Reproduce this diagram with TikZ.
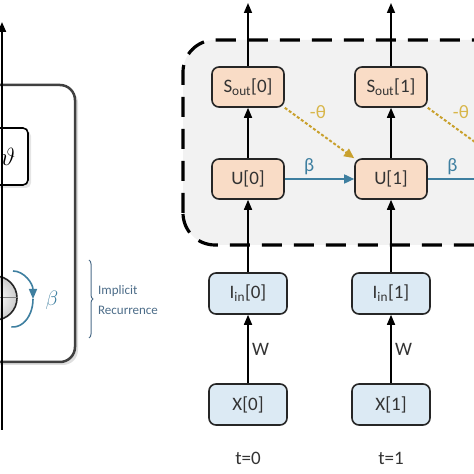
\documentclass[tikz,border=0pt]{standalone}
\usepackage{fontspec}
\setmainfont{Carlito}
\usetikzlibrary{positioning,arrows.meta,shadows,decorations.pathreplacing}

\definecolor{peach}{HTML}{F9DCC6}
\definecolor{icebl}{HTML}{DCEAF4}
\definecolor{betabl}{HTML}{3E7FA0}
\definecolor{thgold}{HTML}{C9A12E}
\definecolor{thtext}{HTML}{D8B64A}
\definecolor{bracebl}{HTML}{4C6C88}
\definecolor{panel}{HTML}{F2F2F2}

\tikzset{
  unit/.style={draw=black!85,line width=1.6pt,rounded corners=7pt,minimum width=72pt,
    minimum height=40pt,font=\fontsize{19}{21}\selectfont,text=black!80},
  memb/.style={unit,fill=peach},
  feed/.style={unit,fill=icebl,minimum width=78pt,minimum height=41pt},
  lbl/.style={font=\fontsize{19}{21}\selectfont,text=black!80},
  betaline/.style={draw=betabl,-{Triangle[length=10pt,width=9pt]}},
  thetaline/.style={draw=thgold,line width=2pt,dash pattern=on 3pt off 2pt,
    -{Triangle[length=10pt,width=9pt]}},
}

\begin{document}
\begin{tikzpicture}[x=1pt,y=1pt,>={Triangle[length=10pt,width=8pt]},line width=1.6pt,
    node distance=92pt,on grid,auto]
	\useasboundingbox (0,0) rectangle (474,474);
	\clip (0,0) rectangle (474,474);
	% folded neuron
	\draw[draw=black!75,line width=2.5pt,fill=white,rounded corners=15pt,
	  drop shadow={opacity=0.25,shadow xshift=3pt,shadow yshift=-3pt}] (-200,112) rectangle (75,389);
	\draw[fill=white,line width=1.6pt,rounded corners=5pt,
	  drop shadow={opacity=0.2,shadow xshift=3pt,shadow yshift=-3pt}] (-60,289) rectangle (28,346);
	\node (vth) at (8,317) {\fontsize{24}{24}\selectfont$\vartheta$};
	\node[circle,draw=black!85,line width=1.6pt,minimum size=44pt,inner color=white,
	  outer color=gray!40] (soma) at (-5,176) {};
	\draw[gray,line width=1pt] (soma.west) -- (soma.east);
	\draw[betabl,->] (13,203) arc[start angle=90,end angle=0,x radius=20pt,y radius=28pt];
	\draw[betabl] (33,175) arc[start angle=0,end angle=-95,x radius=20pt,y radius=28pt];
	\node[text=betabl] (bl) at (52,174) {\fontsize{21}{21}\selectfont$\beta$};
	\draw[->,line width=2pt] (2,44) -- (2,452);
	\draw[bracebl,line width=1pt,decorate,decoration={brace,amplitude=4pt}] (89,214) -- (89,136);
	\node[anchor=west,align=left,text=bracebl,font=\fontsize{13}{20}\selectfont] (impl) at (94,174)
	  {Implicit\\Recurrence};
	% unrolled neuron
	\draw[fill=panel,line width=3.2pt,dash pattern=on 20pt off 12pt,rounded corners=32pt]
	  (183,229) rectangle (640,434);
	\node[memb] (u0) at (248,295) {U[0]};
	\node[memb] (s0) [above=of u0] {S\textsubscript{out}[0]};
	\node[feed] (i0) [below=114.5pt of u0] {I\textsubscript{in}[0]};
	\node[feed] (x0) [below=111pt of i0] {X[0]};
	\node[lbl] (t0) [below=53.5pt of x0] {t=0};
	\coordinate[above=84pt of s0] (o0);
	\node[memb] (u1) [right=143pt of u0] {U[1]};
	\node[memb] (s1) [above=of u1] {S\textsubscript{out}[1]};
	\node[feed] (i1) [below=114.5pt of u1] {I\textsubscript{in}[1]};
	\node[feed] (x1) [below=111pt of i1] {X[1]};
	\node[lbl] (t1) [below=53.5pt of x1] {t=1};
	\coordinate[above=84pt of s1] (o1);
	\coordinate[right=107pt of u1] (u2);
	\coordinate[right=143pt of u1.north west] (u2nw);
	\path[->]
	  (x0) edge node[lbl,swap] {W} (i0)
	  (i0) edge (u0)
	  (u0) edge (s0)
	  (s0) edge (o0)
	  (x1) edge node[lbl,swap] {W} (i1)
	  (i1) edge (u1)
	  (u1) edge (s1)
	  (s1) edge (o1);
	\path
	  (u0) edge[betaline] node[lbl,text=betabl,pos=0.35] {β} (u1)
	  (u1) edge[betaline] node[lbl,text=betabl,pos=0.35] {β} (u2)
	  (s0.south east) edge[thetaline] node[lbl,text=thtext,pos=0.3] {-θ} (u1.north west)
	  (s1.south east) edge[thetaline] node[lbl,text=thtext,pos=0.3] {-θ} (u2nw);
\end{tikzpicture}
\end{document}
